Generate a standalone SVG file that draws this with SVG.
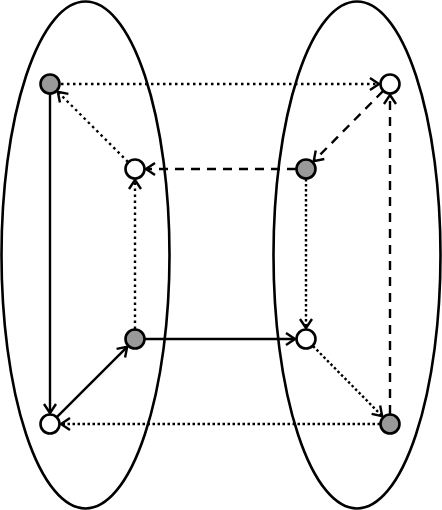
<svg xmlns="http://www.w3.org/2000/svg" width="442" height="510" viewBox="0 0 442 510">
<style>
.grp{fill:none;stroke:#000;stroke-width:2.6}
.node{stroke:#000;stroke-width:2.6}
.gray{fill:#999}
.white{fill:#fff}
.e{fill:none;stroke:#000;stroke-width:2.4;marker-end:url(#arr)}
.dot{stroke-dasharray:2.5 3.5}
.dotd{stroke-dasharray:2.5 2.5}
.dash{stroke-dasharray:9 7}
</style>
<defs>
<marker id="arr" markerUnits="userSpaceOnUse" markerWidth="16" markerHeight="16" viewBox="-12 -8 14 16" refX="0" refY="0" orient="auto">
<path d="M-9,-6 L0,0 L-9,6" fill="none" stroke="#000" stroke-width="2.4"/>
</marker>
</defs>
<g id="groups">
<ellipse id="left-group" class="grp" cx="85.5" cy="255" rx="84" ry="253.5"/>
<ellipse id="right-group" class="grp" cx="357" cy="255" rx="83.5" ry="253.5"/>
</g>
<g id="connectors">
<line class="e" x1="50" y1="94" x2="50" y2="413"/>
<line class="e" x1="57.07" y1="416.93" x2="127.2" y2="346.8"/>
<line class="e" x1="145" y1="339" x2="295" y2="339"/>
<line class="e dot" x1="61" y1="84" x2="379" y2="84"/>
<line class="e dot" x1="127.93" y1="161.93" x2="57.8" y2="91.8"/>
<line class="e dot" x1="135" y1="329" x2="135" y2="180"/>
<line class="e dash" x1="296" y1="169" x2="146" y2="169"/>
<line class="e dash" x1="382.97" y1="91.11" x2="313.7" y2="161.2"/>
<line class="e dotd" x1="306" y1="179" x2="306" y2="328"/>
<line class="e dotd" x1="313.03" y1="346.11" x2="382.2" y2="416.1"/>
<line class="e dash" x1="390" y1="414" x2="390" y2="95"/>
<line class="e dotd" x1="380" y1="424" x2="61" y2="424"/>
</g>
<g id="nodeA"><circle class="node gray" cx="50" cy="84" r="9.5"/></g>
<g id="nodeB"><circle class="node white" cx="390" cy="84" r="9.5"/></g>
<g id="nodeC"><circle class="node white" cx="135" cy="169" r="9.5"/></g>
<g id="nodeD"><circle class="node gray" cx="306" cy="169" r="9.5"/></g>
<g id="nodeE"><circle class="node gray" cx="135" cy="339" r="9.5"/></g>
<g id="nodeF"><circle class="node white" cx="306" cy="339" r="9.5"/></g>
<g id="nodeG"><circle class="node white" cx="50" cy="424" r="9.5"/></g>
<g id="nodeH"><circle class="node gray" cx="390" cy="424" r="9.5"/></g>
</svg>
